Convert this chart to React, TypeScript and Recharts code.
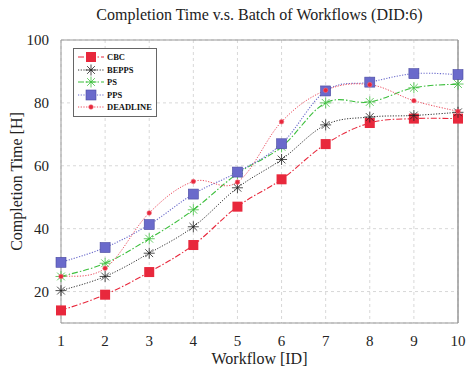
import React from 'react';
import {
  LineChart,
  Line,
  XAxis,
  YAxis,
  CartesianGrid,
  ReferenceLine,
} from 'recharts';

const workflows = [1, 2, 3, 4, 5, 6, 7, 8, 9, 10];
const cbc = [14, 19, 26.2, 34.8, 47, 55.7, 66.9, 73.6, 75, 75];
const bepps = [20.3, 24.8, 32.2, 40.6, 53, 62, 73, 75.5, 76, 77];
const ps = [24.8, 29, 36.8, 46, 57.5, 66, 80, 80.3, 84.8, 86];
const pps = [29.3, 34, 41.3, 51, 58, 67, 83.8, 86.6, 89.3, 89];
const deadline = [24.8, 27.4, 45, 55, 54.8, 74, 84, 85.8, 80.7, 77.3];
const yTicks = [20, 40, 60, 80, 100];

const data = workflows.map((w, i) => ({
  w,
  cbc: cbc[i],
  bepps: bepps[i],
  ps: ps[i],
  pps: pps[i],
  deadline: deadline[i],
}));

const FONT = '"Liberation Serif", "DejaVu Serif", serif';
const RED = '#e8283c';
const GREEN = '#3dbf3d';
const BLUE = '#6a6acb';

// smooth curve like pgfplots "smooth"
const smooth: any = (ctx: any) => {
  let pts: number[][] = [];
  const k = 0.18;
  return {
    areaStart() {},
    areaEnd() {},
    lineStart() {
      pts = [];
    },
    point(x: number, y: number) {
      pts.push([+x, +y]);
    },
    lineEnd() {
      if (!pts.length) return;
      ctx.moveTo(pts[0][0], pts[0][1]);
      for (let i = 0; i < pts.length - 1; i++) {
        const p0 = pts[i - 1] || pts[i];
        const p1 = pts[i];
        const p2 = pts[i + 1];
        const p3 = pts[i + 2] || p2;
        ctx.bezierCurveTo(
          p1[0] + (p2[0] - p0[0]) * k,
          p1[1] + (p2[1] - p0[1]) * k,
          p2[0] - (p3[0] - p1[0]) * k,
          p2[1] - (p3[1] - p1[1]) * k,
          p2[0],
          p2[1]
        );
      }
    },
  };
};

function Marker({ kind, cx, cy }: { kind: string; cx: number; cy: number }) {
  if (kind === 'cbc')
    return <rect x={cx - 5} y={cy - 5} width={10} height={10} fill={RED} />;
  if (kind === 'pps')
    return (
      <rect x={cx - 5} y={cy - 5} width={10} height={10} fill={BLUE} stroke="#4a4aa0" strokeWidth={0.6} />
    );
  if (kind === 'deadline')
    return <circle cx={cx} cy={cy} r={2.3} fill={RED} stroke="#f07080" strokeWidth={0.6} />;
  const color = kind === 'ps' ? GREEN : '#222';
  const r = 5.5;
  const lines = [0, 45, 90, 135].map((a) => {
    const rad = (a * Math.PI) / 180;
    const dx = Math.cos(rad) * r;
    const dy = Math.sin(rad) * r;
    return (
      <line key={a} x1={cx - dx} y1={cy - dy} x2={cx + dx} y2={cy + dy} stroke={color} strokeWidth={0.8} />
    );
  });
  return <g>{lines}</g>;
}

const series = [
  { key: 'cbc', label: 'CBC', color: RED, dash: '6 2 1.5 2', width: 1.1 },
  { key: 'bepps', label: 'BEPPS', color: '#333', dash: '1.2 1.5', width: 1 },
  { key: 'ps', label: 'PS', color: GREEN, dash: '6 2 1.5 2', width: 1.1 },
  { key: 'pps', label: 'PPS', color: BLUE, dash: '1.2 1.5', width: 1.1 },
  { key: 'deadline', label: 'DEADLINE', color: '#ec4a5c', dash: '1.2 1.5', width: 1 },
];

function LegendBox() {
  return (
    <div
      style={{
        position: 'absolute',
        left: 73,
        top: 48,
        border: '1px solid #666',
        background: '#fff',
        padding: '2px 4px 2px 3px',
        fontFamily: FONT,
        fontWeight: 'bold',
        fontSize: 8.5,
        lineHeight: '12px',
      }}
    >
      {series.map((s) => (
        <div key={s.key} style={{ display: 'flex', alignItems: 'center', height: 12.5 }}>
          <svg width={28} height={12}>
            <line x1={1} y1={6} x2={27} y2={6} stroke={s.color} strokeDasharray={s.dash} strokeWidth={s.width} />
            <Marker kind={s.key} cx={14} cy={6} />
          </svg>
          <span style={{ marginLeft: 2, color: '#111' }}>{s.label}</span>
        </div>
      ))}
    </div>
  );
}

export default function App() {
  return (
    <div style={{ position: 'absolute', left: 0, top: 0, width: 474, height: 370, background: '#fff' }}>
      <div
        style={{
          position: 'absolute',
          top: 6,
          left: 61,
          width: 397,
          textAlign: 'center',
          fontFamily: FONT,
          fontSize: 16,
          color: '#222',
        }}
      >
        Completion Time v.s. Batch of Workflows (DID:6)
      </div>
      <LineChart
        width={474}
        height={370}
        data={data}
        margin={{ top: 40, right: 16, bottom: 0, left: 0 }}
      >
        <CartesianGrid stroke="#d8d8d8" strokeDasharray="3 3" />
        <XAxis
          dataKey="w"
          type="number"
          domain={[1, 10]}
          ticks={workflows}
          height={47}
          stroke="#999"
          tickLine={false}
          tick={{ fill: '#222', fontFamily: FONT, fontSize: 15 }}
          tickMargin={6}
          label={{ value: 'Workflow [ID]', position: 'insideBottom', offset: 6, fill: '#222', fontFamily: FONT, fontSize: 16 }}
        />
        <YAxis
          type="number"
          domain={[10, 100]}
          ticks={yTicks}
          width={61}
          stroke="#999"
          tickLine={false}
          tick={{ fill: '#222', fontFamily: FONT, fontSize: 15 }}
          tickMargin={6}
          label={{
            value: 'Completion Time [H]',
            angle: -90,
            position: 'insideLeft',
            offset: 16,
            style: { textAnchor: 'middle' },
            fill: '#222',
            fontFamily: FONT,
            fontSize: 16,
          }}
        />
        <ReferenceLine x={10} stroke="#999" strokeWidth={1.5} />
        <ReferenceLine y={100} stroke="#999" strokeWidth={1} />
        {series.map((s) => (
          <Line
            key={s.key}
            dataKey={s.key}
            type={smooth}
            stroke={s.color}
            strokeWidth={s.width}
            strokeDasharray={s.dash}
            isAnimationActive={false}
            dot={(p: any) => <Marker key={p.index} kind={s.key} cx={p.cx} cy={p.cy} />}
            activeDot={false}
          />
        ))}
      </LineChart>
      <LegendBox />
    </div>
  );
}
